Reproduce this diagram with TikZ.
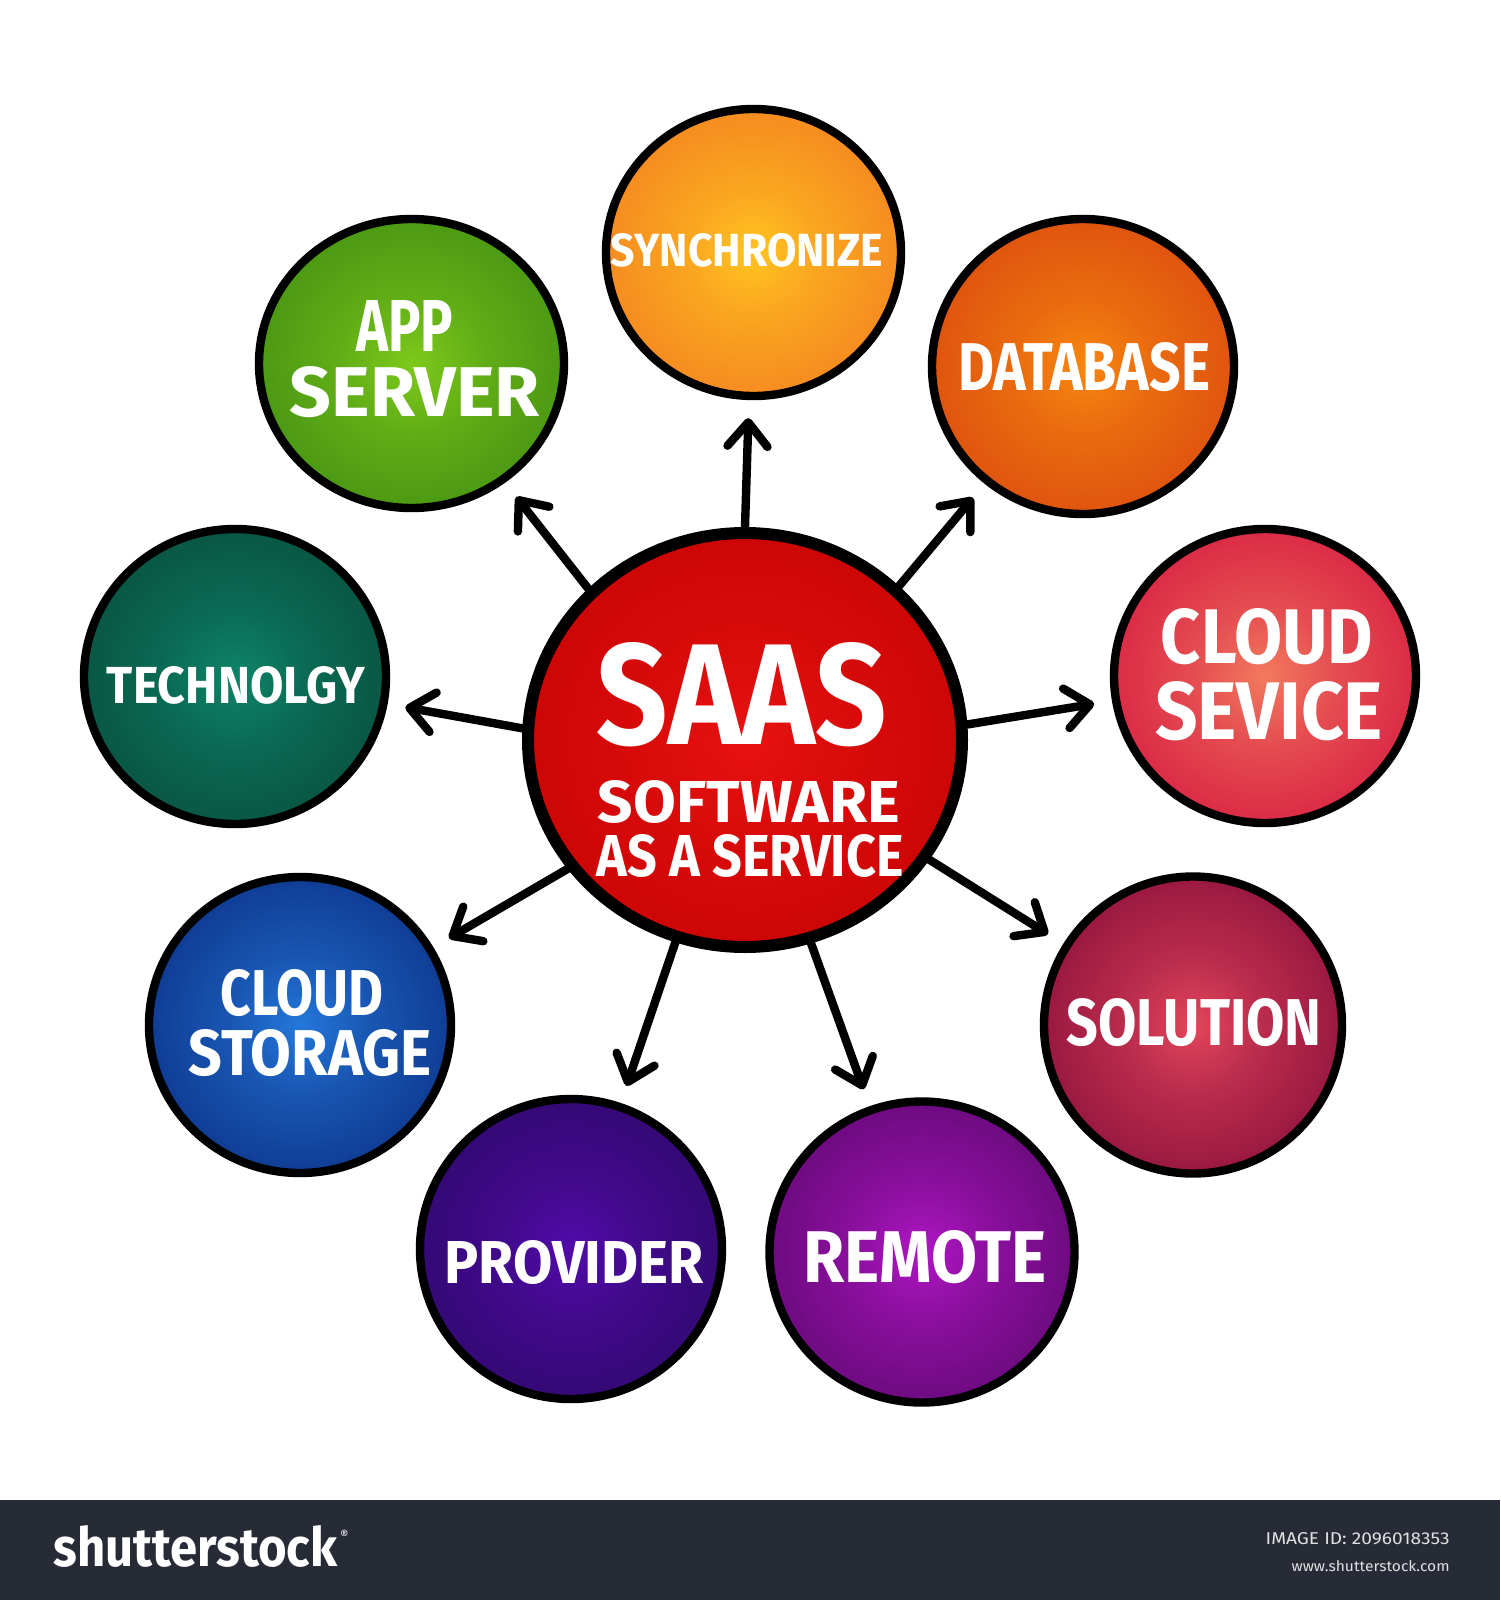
\documentclass[tikz,border=0pt]{standalone}
\usepackage{fontspec}
\setmainfont{Fira Sans}
\usepackage{graphicx}
\usetikzlibrary{arrows.meta,shapes.geometric}

\newdimen\pxu \pxu=0.5pt
\newcommand\fitt[3]{\resizebox{#1\pxu}{#2\pxu}{\bfseries #3}}

\colorlet{gin}{white}
\colorlet{gmid}{gray}
\colorlet{gout}{black}
\pgfdeclareradialshading[gin,gmid,gout]{myrad}{\pgfpoint{0bp}{0bp}}{color(0bp)=(gin); color(12bp)=(gmid); color(34bp)=(gout); color(80bp)=(gout)}

\definecolor{footbg}{RGB}{38,43,54}
\definecolor{saasIn}{HTML}{E81212}\definecolor{saasOut}{HTML}{C60202}
\definecolor{syncIn}{HTML}{FFC41F}\definecolor{syncOut}{HTML}{F37C21}
\definecolor{appIn}{HTML}{7DC91B}\definecolor{appOut}{HTML}{3E8B11}
\definecolor{dbIn}{HTML}{F7870F}\definecolor{dbOut}{HTML}{D9460F}
\definecolor{techIn}{HTML}{0E8468}\definecolor{techOut}{HTML}{074A3A}
\definecolor{csvcIn}{HTML}{F27A5E}\definecolor{csvcOut}{HTML}{D4143F}
\definecolor{cstorIn}{HTML}{2477DA}\definecolor{cstorOut}{HTML}{0A2C80}
\definecolor{solIn}{HTML}{E2455A}\definecolor{solOut}{HTML}{850C3A}
\definecolor{provIn}{HTML}{520BAA}\definecolor{provOut}{HTML}{2C0866}
\definecolor{remIn}{HTML}{AE16C2}\definecolor{remOut}{HTML}{5C076E}

\tikzset{
  grad/.style 2 args={/utils/exec={\colorlet{gin}{#1}\colorlet{gout}{#2}\colorlet{gmid}{#1!55!#2}}, shade, shading=myrad},
  sat/.style={ellipse, draw=black, line width=4.2pt, inner sep=0pt},
  hub/.style={ellipse, draw=black, line width=6pt, inner sep=0pt},
  lbl/.style={text=white, inner sep=0pt},
  conn/.style={line width=4.2pt, line cap=round, line join=round,
    -{Straight Barb[length=12pt,width=20pt,round]}, shorten >=9pt},
}

\begin{document}
\begin{tikzpicture}[x=0.5pt,y=-0.5pt]
\useasboundingbox (0,0) rectangle (1500,1600);
\fill[white] (0,0) rectangle (1500,1600);

% hub
\node[hub, grad={saasIn}{saasOut}, minimum width=217pt, minimum height=207pt] (saas) at (745,740) {};

% satellites
\node[sat, grad={syncIn}{syncOut}, minimum width=147.5pt, minimum height=143.5pt] (sync) at (753.5,252.5) {};
\node[sat, grad={appIn}{appOut}, minimum width=152.5pt, minimum height=144.5pt] (app) at (411.5,363.5) {};
\node[sat, grad={dbIn}{dbOut}, minimum width=151pt, minimum height=147.5pt] (db) at (1083,366.5) {};
\node[sat, grad={techIn}{techOut}, minimum width=151pt, minimum height=147.5pt] (tech) at (235,676.5) {};
\node[sat, grad={csvcIn}{csvcOut}, minimum width=151pt, minimum height=147pt] (csvc) at (1265,676) {};
\node[sat, grad={cstorIn}{cstorOut}, minimum width=151pt, minimum height=148pt] (cstor) at (300,1025) {};
\node[sat, grad={solIn}{solOut}, minimum width=149pt, minimum height=148.5pt] (sol) at (1193,1025) {};
\node[sat, grad={provIn}{provOut}, minimum width=151pt, minimum height=150pt] (prov) at (571,1249) {};
\node[sat, grad={remIn}{remOut}, minimum width=152.5pt, minimum height=150.5pt] (rem) at (922,1252) {};

% labels
\node[lbl] (tSaas) at (742,695) {\fitt{290}{102}{SAAS}};
\node[lbl] (tSoft) at (749,802) {\fitt{302}{42}{SOFTWARE}};
\node[lbl] (tAsa) at (750,856) {\fitt{307}{42}{AS A SERVICE}};
\node[lbl] (tSync) at (747,250) {\fitt{272}{33}{SYNCHRONIZE}};
\node[lbl] (tApp) at (405,326) {\fitt{97}{51}{APP}};
\node[lbl] (tServer) at (415,392) {\fitt{250}{50}{SERVER}};
\node[lbl] (tDb) at (1084,367) {\fitt{252}{48}{DATABASE}};
\node[lbl] (tTech) at (236,685) {\fitt{258}{37}{TECHNOLGY}};
\node[lbl] (tCloudA) at (1267,637) {\fitt{212}{55}{CLOUD}};
\node[lbl] (tSevice) at (1269,711) {\fitt{228}{58}{SEVICE}};
\node[lbl] (tCloudB) at (302,993) {\fitt{163}{46}{CLOUD}};
\node[lbl] (tStorage) at (310,1053) {\fitt{243}{46}{STORAGE}};
\node[lbl] (tSol) at (1194,1023) {\fitt{255}{47}{SOLUTION}};
\node[lbl] (tProv) at (574,1262) {\fitt{259}{43}{PROVIDER}};
\node[lbl] (tRem) at (925,1257) {\fitt{243}{52}{REMOTE}};

% connectors
\draw[conn] (saas.90) -- (sync);
\draw[conn] (saas.136.5) -- (app);
\draw[conn] (saas.45.6) -- (db);
\draw[conn] (saas.177.4) -- (tech);
\draw[conn] (saas.4.4) -- (csvc);
\draw[conn] (saas.216.3) -- (cstor);
\draw[conn] (saas.327.4) -- (sol);
\draw[conn] (saas.251.5) -- (prov);
\draw[conn] (saas.288.7) -- (rem);

% footer
\fill[footbg] (0,1500) rectangle (1500,1600);
\node[anchor=south west, inner sep=0pt, text=white] (logo) at (53,1568) {\resizebox{284\pxu}{41\pxu}{\bfseries shutterstock}};
\node[anchor=south west, inner sep=0pt, text=white] (reg) at (340,1540) {\resizebox{8\pxu}{!}{®}};
\node[anchor=south east, inner sep=0pt, text=white!88!black] (imgid) at (1450,1545) {\resizebox{184\pxu}{12\pxu}{IMAGE ID: 2096018353}};
\node[anchor=south east, inner sep=0pt, text=white!88!black] (www) at (1450,1572) {\resizebox{158\pxu}{11\pxu}{www.shutterstock.com}};
\end{tikzpicture}
\end{document}
